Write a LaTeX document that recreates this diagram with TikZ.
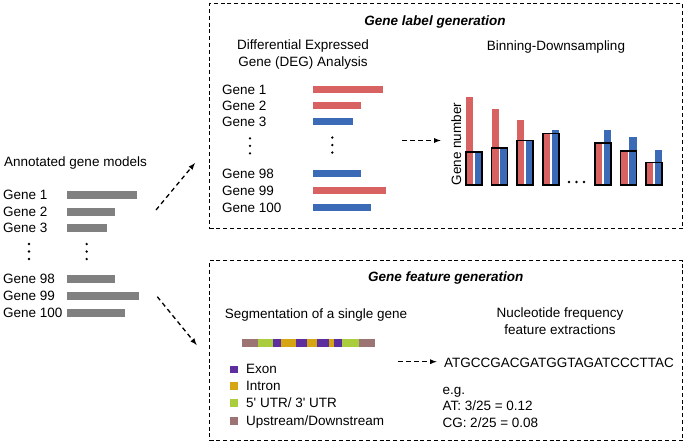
\documentclass[tikz,border=0pt]{standalone}
\usepackage{fontspec}
\setmainfont{Liberation Sans}
\usetikzlibrary{positioning}

\definecolor{upred}{HTML}{D86161}
\definecolor{downblue}{HTML}{3B6BB7}
\definecolor{genegray}{HTML}{808080}
\definecolor{exoncol}{HTML}{5C2E9E}
\definecolor{introncol}{HTML}{D6A514}
\definecolor{utrcol}{HTML}{A9CD3D}
\definecolor{flankcol}{HTML}{9C7474}

\tikzset{
  txt/.style={inner sep=0pt, anchor=base west},
  ctxt/.style={inner sep=0pt, anchor=base, align=center},
  paneltitle/.style={inner sep=0pt, anchor=base, font=\fontsize{13.5}{16}\selectfont\bfseries\itshape},
  panel/.style={draw, line width=1.3pt, dash pattern=on 4pt off 2.8pt, inner sep=0pt, anchor=north west},
  flow/.style={-latex, line width=1.3pt, dash pattern=on 4.5pt off 3.5pt},
  binbox/.style={draw, line width=1.7pt}
}

\begin{document}
\begin{tikzpicture}[x=1pt, y=-1pt, font=\fontsize{13.5}{17}\selectfont]
  \useasboundingbox[fill=white] (0,0) rectangle (685,445);

  % input genes
  \node[txt] (annot) at (4,166) {Annotated gene models};
  \foreach \i/\y/\len in {1/199/70, 2/216/48.3, 3/232.7/40.6, 98/283/48.3, 99/300.7/72.6, 100/317.7/58.3} {
    \node[txt] (in\i) at (3,\y) {Gene \i};
    \fill[genegray] (66.7,\y-8.5) rectangle ++(\len,8);
  }
  \foreach \x in {29,86.7}
    \foreach \d in {-7.5,0,7.5}
      \fill (\x,251.5+\d) circle (1.3);

  % the two panels
  \node[panel, minimum width=473pt, minimum height=225pt] (labelbox) at (209,3) {};
  \node[panel, minimum width=473pt, minimum height=180pt] (featbox) at (209,260) {};

  \coordinate (upfrom) at (156,210);
  \coordinate (upto) at (195,163);
  \coordinate (downfrom) at (157.3,296.7);
  \coordinate (downto) at (196.7,345);
  \draw[flow] (upfrom) -- (upto);
  \draw[flow] (downfrom) -- (downto);

  % gene label generation
  \node[paneltitle] (labeltitle) at (435,25) {Gene label generation};
  \node[ctxt] (deg) at (303,66.5) {Differential Expressed\\Gene (DEG) Analysis};
  \foreach \i/\y/\len/\col in {1/94/70.3/upred, 2/110/48.3/upred, 3/126/40.3/downblue,
      98/178/48.3/downblue, 99/195/73.3/upred, 100/212/58.3/downblue} {
    \node[txt] (deg\i) at (222,\y) {Gene \i};
    \fill[\col] (313,\y-8.5) rectangle ++(\len,7.5);
  }
  \foreach \x/\yc in {250/145.8,332.3/145}
    \foreach \d in {-7.5,0,7.5}
      \fill (\x,\yc+\d) circle (1.3);

  \node[ctxt] (binning) at (556,50) {Binning-Downsampling};
  \node[inner sep=0pt, anchor=base, rotate=90] (genenum) at (461,144) {Gene number};
  \foreach \x/\r/\b/\t in {466/97/152/152, 491.5/109/148/148, 517/120/140.5/140.5,
      543/133.5/130/133.5, 595/143/130/143, 620.5/151/137/151, 646/162/150/162.5} {
    \fill[upred] (\x,185) rectangle (\x+7.3,\r);
    \fill[downblue] (\x+8.7,185) rectangle (\x+16,\b);
    \draw[binbox] (\x,185) rectangle (\x+16,\t);
  }
  \foreach \x in {569,576.5,584}
    \fill (\x,182) circle (1.3);

  \coordinate (degout) at (402.3,140.5);
  \coordinate (binin) at (440.7,140.5);
  \draw[flow] (degout) -- (binin);

  % gene feature generation
  \node[paneltitle] (feattitle) at (445.7,281.5) {Gene feature generation};
  \node[ctxt] (segm) at (316,318) {Segmentation of a single gene};
  \foreach \a/\b/\col in {242.3/258.3/flankcol, 258.3/272.7/utrcol, 272.7/280.7/exoncol,
      280.7/295.7/introncol, 295.7/306.7/exoncol, 306.7/317.3/introncol, 317.3/329/exoncol,
      329/334/introncol, 334/342.3/exoncol, 342.3/359/utrcol, 359/375.3/flankcol}
    \fill[\col] (\a,339.3) rectangle (\b,347.3);
  \foreach \y/\col in {373.7/exoncol, 390.3/introncol, 407/utrcol, 425/flankcol}
    \fill[\col] (230,\y-8) rectangle ++(8,7.5);
  \node[txt] (exon) at (246,373.7) {Exon};
  \node[txt] (intron) at (246,390.3) {Intron};
  \node[txt] (utr) at (246,407) {5\textquotesingle{} UTR/ 3\textquotesingle{} UTR};
  \node[txt] (flank) at (246,425) {Upstream/Downstream};

  \node[ctxt] (nucl) at (560,334) {Nucleotide frequency\\feature extractions};
  \node[txt] (seq) at (444,367.7) {ATGCCGACGATGGTAGATCCCTTAC};
  \node[txt] (eg) at (442.3,394.5) {e.g.};
  \node[txt] (at) at (442.3,410.5) {AT: 3/25 = 0.12};
  \node[txt] (cg) at (442.3,427) {CG: 2/25 = 0.08};

  \coordinate (segout) at (398.3,361.7);
  \coordinate (seqin) at (436.7,361.7);
  \draw[flow] (segout) -- (seqin);
\end{tikzpicture}
\end{document}
